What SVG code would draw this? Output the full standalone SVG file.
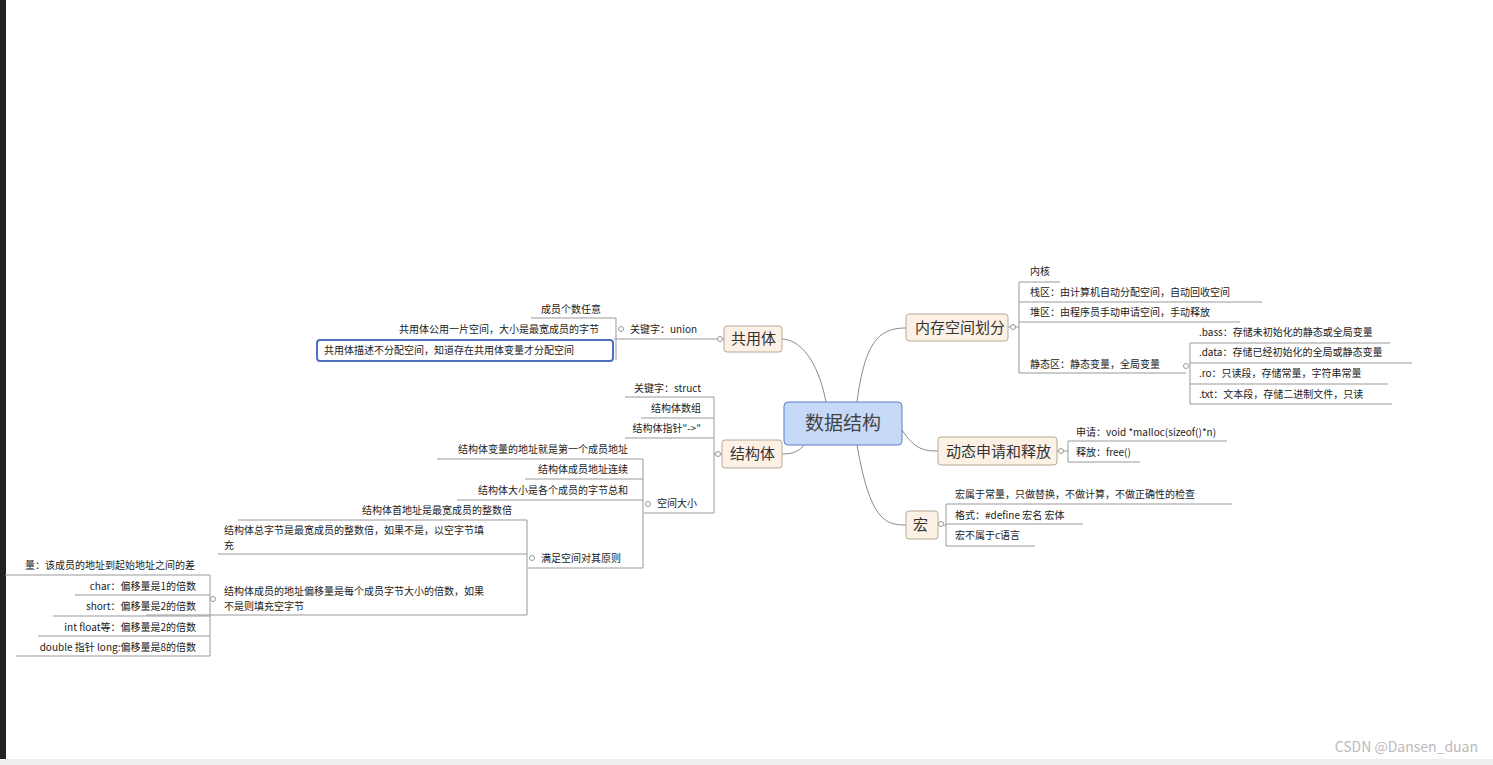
<svg xmlns="http://www.w3.org/2000/svg" width="1493" height="765" viewBox="0 0 1493 765">
<style>
text{font-family:"Noto Sans CJK SC","Liberation Sans",sans-serif;fill:#222}
.s{font-size:10px}
.r{text-anchor:end}
.n{font-size:15px;fill:#333}
.u{stroke:#999;stroke-width:1;fill:none}
.c{stroke:#888;stroke-width:1;fill:none}
.nb{fill:#fdf1e6;stroke:#b5a898;stroke-width:1}
.d{fill:#fff;stroke:#999;stroke-width:1}
</style>
<rect width="1493" height="765" fill="#fff"/>
<rect x="0" y="0" width="6" height="765" fill="#222"/>
<rect x="0" y="759" width="1493" height="6" fill="#eeeeee"/>
<g id="connectors">
<path class="c" d="M857 402 C865 340 880 328 906 328"/>
<path class="c" d="M902 430 C915 450 925 451 938 451"/>
<path class="c" d="M857 445 C870 520 885 525 906 525"/>
<path class="c" d="M782 339 C805 340 820 370 826 402"/>
<path class="c" d="M782 454 C795 454 800 450 804 445"/>
<path class="u" d="M1008 327 H1019 M1019 282 V373 M1019 282 H1060 M1019 302 H1262 M1019 322 H1240 M1019 373 H1186"/>
<path class="u" d="M1190 343 V404 M1190 343 H1390 M1190 363 H1412 M1190 384 H1388 M1190 404 H1392"/>
<path class="u" d="M1057 451 H1068 M1068 441 V462 M1068 441 H1227 M1068 462 H1140"/>
<path class="u" d="M938 525 H946 M946 504 V546 M946 504 H1232 M946 524 H1083 M946 546 H1035"/>
<path class="u" d="M614 339 H724 M616 318 V360 M531 318 H616"/>
<path class="u" d="M714 397 V513 M625 397 H714 M641 418 H714 M625 438 H714 M644 513 H714 M714 454 H722"/>
<path class="u" d="M643 459 V568 M437 459 H643 M525 479 H643 M457 500 H643 M527 568 H643"/>
<path class="u" d="M527 520 V615 M238 520 H527 M218 554 H527 M146 615 H527"/>
<path class="u" d="M210 575 V656 M5 575 H210 M75 595 H210 M53 616 H210 M38 636 H210 M16 656 H210"/>
<circle class="d" cx="1013" cy="327" r="2.5"/>
<circle class="d" cx="1186" cy="366" r="2.5"/>
<circle class="d" cx="1061" cy="451" r="2.5"/>
<circle class="d" cx="941" cy="524" r="2.5"/>
<circle class="d" cx="720" cy="339" r="2.5"/>
<circle class="d" cx="621" cy="329" r="2.5"/>
<circle class="d" cx="718" cy="454" r="2.5"/>
<circle class="d" cx="648" cy="504" r="2.5"/>
<circle class="d" cx="532" cy="558" r="2.5"/>
<circle class="d" cx="213" cy="599" r="2.5"/>
</g>
<g id="root"><rect x="784" y="402" width="118" height="43" rx="4" fill="#c6daf8" stroke="#5b80c8"/><text x="843" y="430" text-anchor="middle" style="font-size:19px;fill:#444">数据结构</text></g>
<g id="mem"><rect class="nb" x="906" y="314" width="102" height="27" rx="3"/><text class="n" x="915" y="333">内存空间划分</text>
<text class="s" x="1030" y="275">内核</text>
<text class="s" x="1030" y="296">栈区：由计算机自动分配空间，自动回收空间</text>
<text class="s" x="1030" y="316">堆区：由程序员手动申请空间，手动释放</text>
<text class="s" x="1030" y="368">静态区：静态变量，全局变量</text>
<text class="s" x="1199" y="336">.bass：存储未初始化的静态或全局变量</text>
<text class="s" x="1199" y="356">.data：存储已经初始化的全局或静态变量</text>
<text class="s" x="1199" y="377">.ro：只读段，存储常量，字符串常量</text>
<text class="s" x="1199" y="398">.txt：文本段，存储二进制文件，只读</text></g>
<g id="dyn"><rect class="nb" x="938" y="437" width="119" height="28" rx="3"/><text class="n" x="946" y="457">动态申请和释放</text>
<text class="s" x="1076" y="436">申请：void *malloc(sizeof()*n)</text>
<text class="s" x="1076" y="456">释放：free()</text></g>
<g id="macro"><rect class="nb" x="906" y="511" width="32" height="28" rx="3"/><text class="n" x="913" y="530">宏</text>
<text class="s" x="955" y="498">宏属于常量，只做替换，不做计算，不做正确性的检查</text>
<text class="s" x="955" y="519">格式：#define 宏名 宏体</text>
<text class="s" x="955" y="539">宏不属于c语言</text></g>
<g id="union"><rect class="nb" x="724" y="326" width="58" height="26" rx="3"/><text class="n" x="731" y="344">共用体</text>
<text class="s" x="630" y="333">关键字：union</text>
<text class="s r" x="601" y="313">成员个数任意</text>
<text class="s r" x="599" y="333">共用体公用一片空间，大小是最宽成员的字节</text>
<rect x="317" y="340" width="296" height="21" rx="3" fill="#fff" stroke="#4f6fbf" stroke-width="2"/>
<text class="s" x="324" y="354">共用体描述不分配空间，知道存在共用体变量才分配空间</text></g>
<g id="struct"><rect class="nb" x="722" y="440" width="60" height="28" rx="3"/><text class="n" x="730" y="459">结构体</text>
<text class="s r" x="701" y="392">关键字：struct</text>
<text class="s r" x="701" y="412">结构体数组</text>
<text class="s r" x="701" y="432">结构体指针"-&gt;"</text>
<text class="s" x="657" y="507">空间大小</text>
<text class="s r" x="628" y="453">结构体变量的地址就是第一个成员地址</text>
<text class="s r" x="628" y="473">结构体成员地址连续</text>
<text class="s r" x="628" y="494">结构体大小是各个成员的字节总和</text>
<text class="s" x="541" y="562">满足空间对其原则</text>
<text class="s r" x="512" y="514">结构体首地址是最宽成员的整数倍</text>
<text class="s" x="224" y="534">结构体总字节是最宽成员的整数倍，如果不是，以空字节填</text>
<text class="s" x="224" y="549">充</text>
<text class="s" x="224" y="595">结构体成员的地址偏移量是每个成员字节大小的倍数，如果</text>
<text class="s" x="224" y="610">不是则填充空字节</text>
<text class="s r" x="195" y="569">量：该成员的地址到起始地址之间的差</text>
<text class="s r" x="196" y="590">char：偏移量是1的倍数</text>
<text class="s r" x="196" y="610">short：偏移量是2的倍数</text>
<text class="s r" x="196" y="631">int float等：偏移量是2的倍数</text>
<text class="s r" x="196" y="651">double 指针 long:偏移量是8的倍数</text></g>
<text x="1478" y="752" text-anchor="end" style="font-size:14px;fill:#bbb">CSDN @Dansen_duan</text>
</svg>
